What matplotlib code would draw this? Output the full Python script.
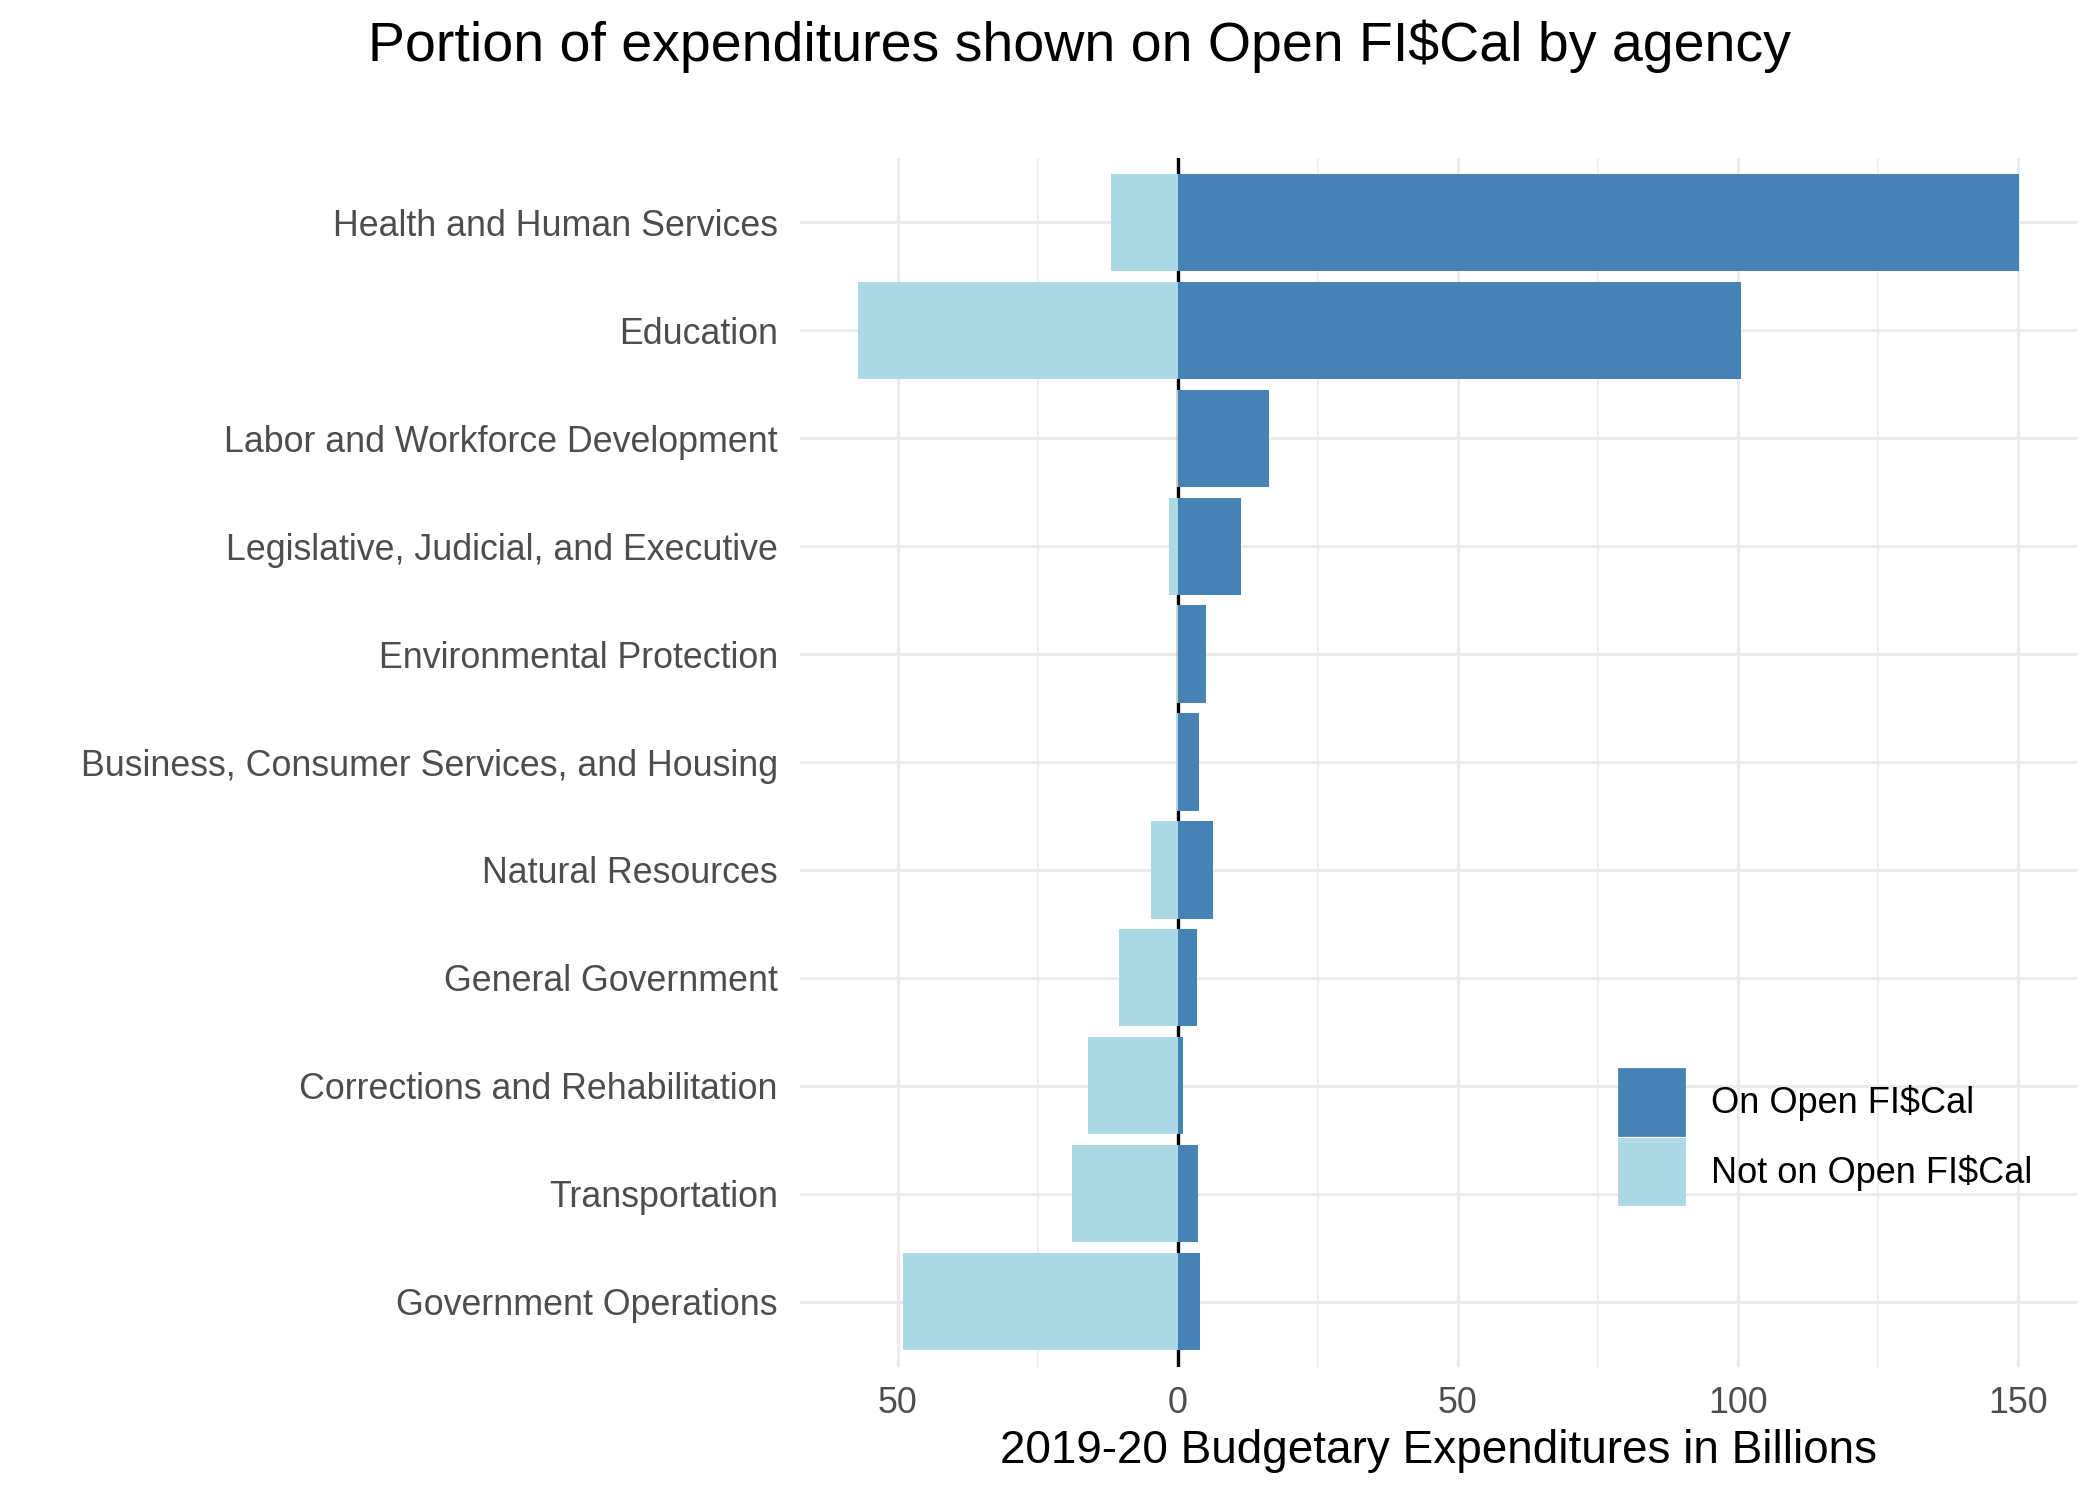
import numpy as np
import matplotlib
matplotlib.use('Agg')
from matplotlib import pyplot as plt
from matplotlib.patches import Patch
from matplotlib.ticker import FuncFormatter, MultipleLocator

plt.rcParams['font.family'] = ['Liberation Sans', 'DejaVu Sans']

agencies = [
    'Health and Human Services',
    'Education',
    'Labor and Workforce Development',
    'Legislative, Judicial, and Executive',
    'Environmental Protection',
    'Business, Consumer Services, and Housing',
    'Natural Resources',
    'General Government',
    'Corrections and Rehabilitation',
    'Transportation',
    'Government Operations',
]
on_fiscal = [150.2, 100.5, 16.3, 11.3, 5.1, 3.8, 6.2, 3.4, 1.0, 3.6, 4.0]
not_on_fiscal = [11.9, 57.1, 0.1, 1.6, 0.1, 0.4, 4.8, 10.5, 16.0, 18.9, 49.1]

on_color = '#4682B4'
off_color = '#ADD8E6'
grid_color = '#ebebeb'

fig = plt.figure(figsize=(10.5, 7.5), dpi=200)
ax = fig.add_axes([0.381, 0.089, 0.608, 0.806])

y = np.arange(len(agencies))[::-1]
ax.barh(y, on_fiscal, height=0.9, color=on_color, zorder=3)
ax.barh(y, [-v for v in not_on_fiscal], height=0.9, color=off_color, zorder=3)
ax.axvline(0, color='black', lw=1.2, zorder=2)

lo = -max(not_on_fiscal)
hi = max(on_fiscal)
pad = (hi - lo) * 0.05
ax.set_xlim(lo - pad, hi + pad)
ax.set_ylim(-0.6, len(agencies) - 0.4)

ax.set_yticks(y)
ax.set_yticklabels(agencies)
ax.xaxis.set_major_locator(MultipleLocator(50))
ax.xaxis.set_minor_locator(MultipleLocator(25))
ax.xaxis.set_major_formatter(FuncFormatter(lambda v, p: f'{abs(v):g}'))

ax.grid(axis='x', which='major', color=grid_color, lw=1.1, zorder=0)
ax.grid(axis='x', which='minor', color=grid_color, lw=0.55, zorder=0)
ax.grid(axis='y', which='major', color=grid_color, lw=1.1, zorder=0)
ax.set_axisbelow(True)

for s in ax.spines.values():
    s.set_visible(False)
ax.tick_params(axis='both', which='both', length=0, labelsize=12.9, labelcolor='#4d4d4d')
ax.tick_params(axis='y', pad=8)
ax.tick_params(axis='x', pad=7)

ax.set_xlabel('2019-20 Budgetary Expenditures in Billions', fontsize=16.5, labelpad=3)
fig.text(0.514, 0.969, 'Portion of expenditures shown on Open FI$Cal by agency',
         fontsize=20, ha='center', va='center')

handles = [Patch(color=on_color, label='On Open FI$Cal'),
           Patch(color=off_color, label='Not on Open FI$Cal')]
ax.legend(handles=handles, loc='center left', bbox_to_anchor=(0.627, 0.19),
          frameon=False, fontsize=13, handlelength=1.8, handleheight=2.43,
          labelspacing=0.1, handletextpad=0.75, borderpad=0)

plt.savefig('out.png', dpi=200)
plt.close()
